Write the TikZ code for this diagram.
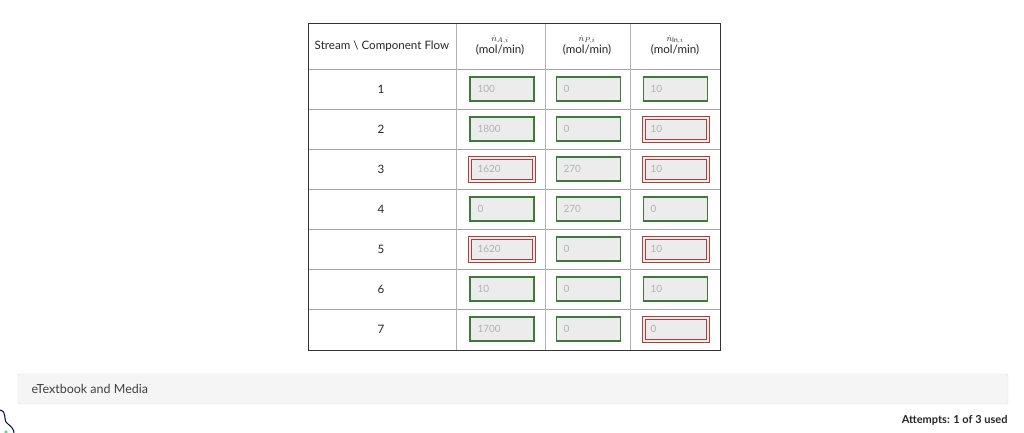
\documentclass[tikz,border=0pt]{standalone}
\usepackage{fontspec}
\setmainfont{Lato}
\definecolor{okg}{HTML}{3F7A3A}
\definecolor{badr}{HTML}{A8403C}
\newcommand{\mybox}[4]{% flag, name, x, y
  \ifnum#1=1
    \node[draw=badr,line width=0.9pt,fill=gray!15,minimum width=67pt,minimum height=26pt,inner sep=0pt] (#2) at (#3,#4) {};
    \node[draw=badr,line width=0.9pt,minimum width=61pt,minimum height=20pt,inner sep=0pt] (#2i) at (#3,#4) {};
  \else
    \node[draw=okg,line width=1.1pt,fill=gray!15,minimum width=64pt,minimum height=24pt,inner sep=0pt] (#2) at (#3,#4) {};
  \fi}
\begin{document}
\begin{tikzpicture}[x=1pt,y=-1pt,
  val/.style={font=\fontsize{10}{11}\selectfont,text=gray!60,anchor=west},
  lab/.style={font=\fontsize{11.6}{13}\selectfont,text=black!85}]
\useasboundingbox (0,0) rectangle (1024,433);
\fill[white] (0,0) rectangle (1024,433);
\foreach \y in {69,109,...,309} \draw[gray!70,line width=0.8pt] (308,\y) -- (720,\y);
\foreach \x in {456,545,630} \draw[gray!60,line width=0.8pt] (\x,23) -- (\x,350);
\draw[black!80,line width=0.8pt] (308,23) rectangle (720,350);
\node[lab] (h0) at (382,46) {Stream \textbackslash\ Component Flow};
\node[lab,align=center] (h1) at (500,45) {{\fontsize{9.5}{9}\selectfont $\dot n_{A,i}$}\\[-1pt](mol/min)};
\node[lab,align=center] (h2) at (587,45) {{\fontsize{9.5}{9}\selectfont $\dot n_{P,i}$}\\[-1pt](mol/min)};
\node[lab,align=center] (h3) at (675,45) {{\fontsize{9.5}{9}\selectfont $\dot n_{\mathrm{In},i}$}\\[-1pt](mol/min)};
\foreach \r/\a/\b/\c/\fa/\fb/\fc in {1/100/0/10/0/0/0,2/1800/0/10/0/0/1,3/1620/270/10/1/0/1,4/0/270/0/0/0/0,5/1620/0/10/1/0/1,6/10/0/10/0/0/0,7/1700/0/0/0/0/1}{
  \pgfmathsetmacro\yy{49+40*\r}
  \node[lab] (r\r) at (381,\yy) {\r};
  \mybox{\fa}{a\r}{502}{\yy} \node[val] at (474,\yy) {\a};
  \mybox{\fb}{b\r}{588.5}{\yy} \node[val] at (560,\yy) {\b};
  \mybox{\fc}{c\r}{675.5}{\yy} \node[val] at (647,\yy) {\c};
}
\node[draw=gray!25,fill=gray!8,rounded corners=2pt,minimum width=990pt,minimum height=30pt,inner sep=0pt] (bar) at (513,389) {};
\node[anchor=west,text=black!75,font=\fontsize{12.5}{14}\selectfont] (bt) at (28,389) {eTextbook and Media};
\node[anchor=east,font=\fontsize{11}{13}\selectfont\bfseries,text=black!85] (att) at (1011,420) {Attempts: 1 of 3 used};
\draw[blue!30!black,line width=1pt] (0,410) .. controls (8,412) and (2,420) .. (8,424) .. controls (12,427) and (14,430) .. (14,433);
\fill[green!50!teal!60] (6,432) circle (1.8);
\end{tikzpicture}
\end{document}
